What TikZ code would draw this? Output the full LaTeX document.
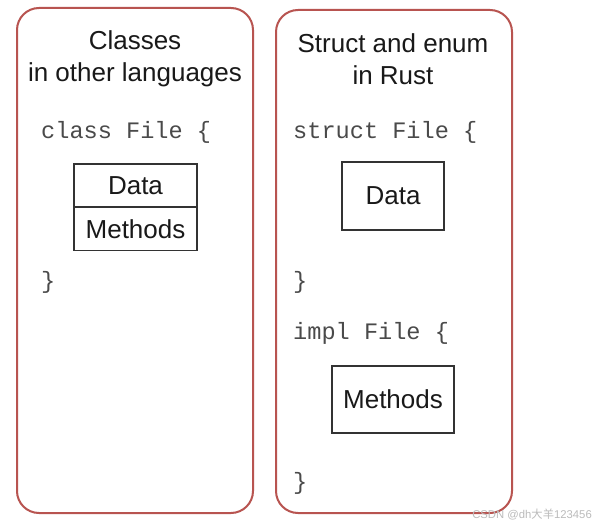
\documentclass[tikz,border=0pt]{standalone}
\usepackage{fontspec}
\setmainfont{Liberation Sans}
\setmonofont{Liberation Mono}
\newfontfamily\cjkfont{Noto Sans CJK SC}
\definecolor{panelred}{HTML}{B85450}
\definecolor{boxgray}{HTML}{333333}
\definecolor{codegray}{HTML}{4A4A4A}
\definecolor{wmgray}{HTML}{BBBBBB}
\tikzset{
  panel/.style={draw=panelred, line width=2pt, rounded corners=22pt},
  titletext/.style={font=\fontsize{26}{32}\selectfont, text=black!90, align=center, inner sep=0pt},
  codetext/.style={font=\ttfamily\fontsize{23.6}{28}\selectfont, text=codegray, anchor=west, inner sep=0pt},
  membox/.style={draw=boxgray, line width=1.6pt, font=\fontsize{26}{30}\selectfont, text=black!90, inner sep=0pt},
  memtext/.style={font=\fontsize{26}{30}\selectfont, text=black!90, inner sep=0pt},
  wmark/.style={font=\fontsize{11.3}{14}\selectfont, text=wmgray, inner sep=0pt}
}
\begin{document}
\begin{tikzpicture}[x=1pt,y=-1pt]
\useasboundingbox (0,0) rectangle (594,526);
\fill[white] (0,0) rectangle (594,526);
% panels
\draw[panel] (17,8) rectangle (253,513);
\draw[panel] (276,10) rectangle (512,513);
% titles
\node[titletext] (ltitle) at (135,59) {Classes\\in other languages};
\node[titletext] (rtitle) at (393,59) {Struct and enum\\in Rust};
% left code
\node[codetext] (lclass) at (41,132) {class File \{};
\node[codetext] (lclose) at (41,282) {\}};
\node[memtext, minimum width=123pt, minimum height=43pt] (ldata) at (135.5,185.5) {Data};
\node[memtext, minimum width=123pt, minimum height=43pt, anchor=north] (lmeth) at (ldata.south) {Methods};
\draw[draw=boxgray, line width=1.6pt] (ldata.north west) rectangle (lmeth.south east);
\draw[draw=boxgray, line width=1.6pt] (ldata.south west) -- (ldata.south east);
% right code
\node[codetext] (rstruct) at (293,132) {struct File \{};
\node[codetext] (rclose1) at (293,282) {\}};
\node[membox, minimum width=102pt, minimum height=68pt] (rdata) at (393,196) {Data};
\node[codetext] (rimpl) at (293,333) {impl File \{};
\node[membox, minimum width=122pt, minimum height=67pt] (rmeth) at (393,399.5) {Methods};
\node[codetext] (rclose2) at (293,483) {\}};
% watermark
\node[wmark, anchor=east] (wm) at (592,515) {CSDN @dh{\cjkfont 大羊}123456};
\end{tikzpicture}
\end{document}
